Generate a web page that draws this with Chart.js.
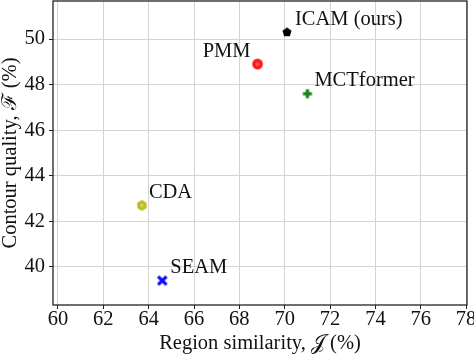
<!DOCTYPE html>
<html>
<head>
<meta charset="utf-8">
<script src="https://cdn.jsdelivr.net/npm/chart.js@4/dist/chart.umd.min.js"></script>
<style>
  html, body { margin: 0; padding: 0; background: #fff; }
  #wrap { width: 474px; height: 355px; position: relative; }
</style>
</head>
<body>
<div id="wrap"><canvas id="c" width="474" height="355"></canvas></div>
<script>
// ---- data ----
const methods = ['ICAM (ours)', 'PMM', 'MCTformer', 'CDA', 'SEAM'];
const regionSimilarity = [70.1, 68.8, 71.0, 63.7, 64.6];
const contourQuality = [50.3, 48.9, 47.6, 42.7, 39.4];
const xTicks = [60, 62, 64, 66, 68, 70, 72, 74, 76, 78];
const yTicks = [40, 42, 44, 46, 48, 50];

// ---- styles ----
const FONT = '"Liberation Serif", "Times New Roman", Times, serif';
const markerColors = ['#000000', '#ff1a1a', '#1a7f1a', '#bcbd22', '#0a0aff'];
const markerShapes = ['pentagon', 'circle', 'plus', 'hexagon', 'x'];
const labelOffsets = [[8, -13, 'left'], [-7, -13, 'right'], [7, -13, 'left'], [7, -13, 'left'], [8, -13, 'left']];

function makeMarker(shape, color) {
  const s = 14;
  const cv = document.createElement('canvas');
  cv.width = s; cv.height = s;
  const g = cv.getContext('2d');
  const c = s / 2;
  g.fillStyle = color;
  g.beginPath();
  if (shape === 'pentagon' || shape === 'hexagon') {
    const n = shape === 'pentagon' ? 5 : 6;
    const r = shape === 'pentagon' ? 4.8 : 5.4;
    for (let i = 0; i < n; i++) {
      const a = -Math.PI / 2 + i * 2 * Math.PI / n;
      const px = c + r * Math.cos(a), py = c + r * Math.sin(a);
      i ? g.lineTo(px, py) : g.moveTo(px, py);
    }
    g.closePath(); g.fill();
    if (shape === 'hexagon') {
      g.fillStyle = 'rgba(255,255,255,0.35)';
      g.beginPath(); g.arc(c, c, 1.8, 0, Math.PI * 2); g.fill();
    }
  } else if (shape === 'circle') {
    g.arc(c, c, 5.4, 0, Math.PI * 2); g.fill();
    g.fillStyle = 'rgba(255,255,255,0.35)';
    g.beginPath(); g.arc(c, c, 1.8, 0, Math.PI * 2); g.fill();
  } else if (shape === 'plus') {
    const a = 4.5, w = 1.6;
    g.fillRect(c - a, c - w, 2 * a, 2 * w);
    g.fillRect(c - w, c - a, 2 * w, 2 * a);
  } else if (shape === 'x') {
    g.strokeStyle = color; g.lineWidth = 3.2; g.lineCap = 'butt';
    const a = 4.2;
    g.moveTo(c - a, c - a); g.lineTo(c + a, c + a);
    g.moveTo(c + a, c - a); g.lineTo(c - a, c + a);
    g.stroke();
  }
  return cv;
}

const points = methods.map((m, i) => ({ x: regionSimilarity[i], y: contourQuality[i] }));
const pointImages = markerShapes.map((s, i) => makeMarker(s, markerColors[i]));

const labelPlugin = {
  id: 'pointLabels',
  afterDatasetsDraw(chart) {
    const { ctx, scales: { x, y } } = chart;
    ctx.save();
    ctx.font = '20.5px ' + FONT;
    ctx.fillStyle = '#111';
    ctx.textBaseline = 'middle';
    methods.forEach((m, i) => {
      const [dx, dy, al] = labelOffsets[i];
      ctx.textAlign = al;
      ctx.fillText(m, x.getPixelForValue(regionSimilarity[i]) + dx, y.getPixelForValue(contourQuality[i]) + dy);
    });
    ctx.restore();
  }
};

const framePlugin = {
  id: 'frame',
  afterDraw(chart) {
    const { ctx, chartArea: a } = chart;
    ctx.save();
    ctx.strokeStyle = '#222';
    ctx.lineWidth = 1.3;
    ctx.strokeRect(a.left, a.top, a.right - a.left, a.bottom - a.top);
    ctx.restore();
  }
};

new Chart(document.getElementById('c'), {
  type: 'scatter',
  data: {
    datasets: [{
      label: 'methods',
      data: points,
      pointStyle: pointImages,
      pointRadius: 6,
      pointHoverRadius: 6
    }]
  },
  options: {
    responsive: false,
    animation: false,
    events: [],
    layout: { autoPadding: false, padding: { top: 1, right: 7, left: 0, bottom: 0 } },
    plugins: { legend: { display: false }, tooltip: { enabled: false } },
    scales: {
      x: {
        type: 'linear',
        min: 59.78, max: 78.04,
        afterBuildTicks: s => { s.ticks = xTicks.map(v => ({ value: v })); },
        afterFit: s => { s.height = 50; s.paddingLeft = 0; s.paddingRight = 0; },
        grid: { color: '#d3d3d3', lineWidth: 1, tickLength: 4, tickColor: '#222' },
        border: { display: false },
        ticks: { color: '#111', font: { family: FONT, size: 20.5 }, padding: -2, maxRotation: 0, autoSkip: false },
        title: { display: true, text: 'Region similarity, 𝒥 (%)', color: '#111', font: { family: FONT, size: 20.5 }, padding: { top: 0, bottom: -1 } }
      },
      y: {
        type: 'linear',
        min: 38.33, max: 51.67,
        afterBuildTicks: s => { s.ticks = yTicks.map(v => ({ value: v })); },
        afterFit: s => { s.width = 53; s.paddingTop = 0; s.paddingBottom = 0; },
        grid: { color: '#d3d3d3', lineWidth: 1, tickLength: 4, tickColor: '#222' },
        border: { display: false },
        ticks: { color: '#111', font: { family: FONT, size: 20.5 }, padding: 4, autoSkip: false },
        title: { display: true, text: 'Contour quality, ℱ (%)', color: '#111', font: { family: FONT, size: 20.5 }, padding: { top: -2, bottom: 0 } }
      }
    }
  },
  plugins: [labelPlugin, framePlugin]
});
</script>
</body>
</html>
